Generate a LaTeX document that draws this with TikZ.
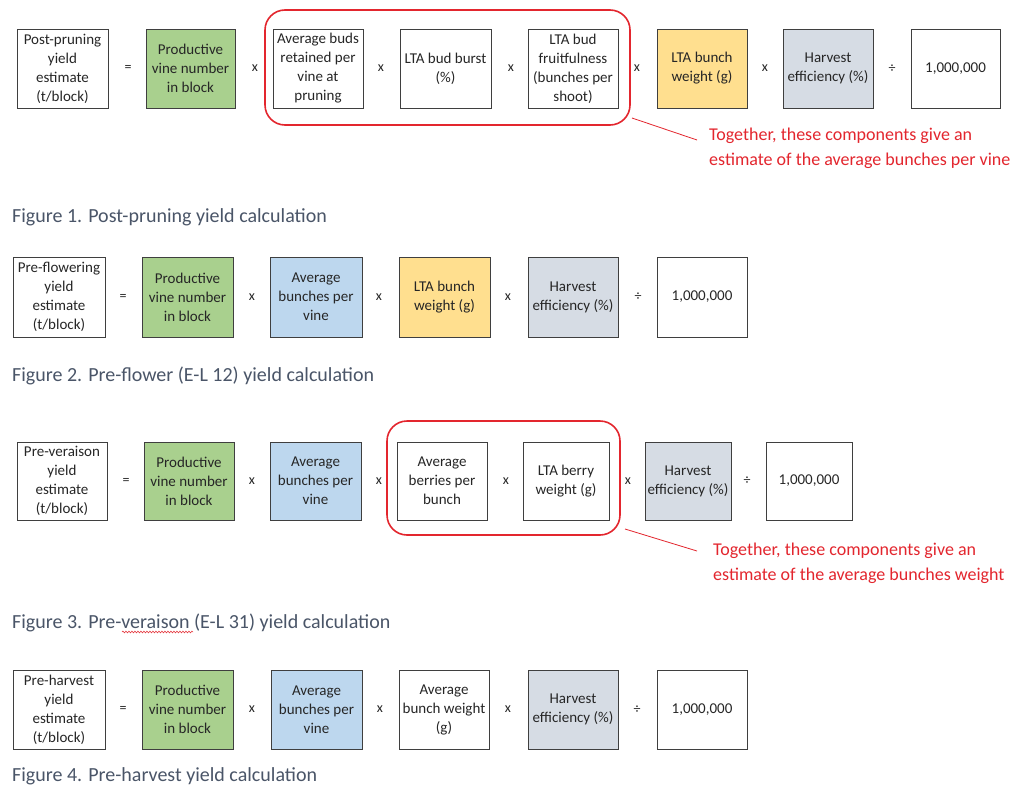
\documentclass[tikz,border=0pt]{standalone}
\usepackage{fontspec}
\setmainfont{Carlito}
\usetikzlibrary{decorations.pathmorphing}
\definecolor{boxline}{HTML}{3F3F3F}
\definecolor{boxtext}{HTML}{262626}
\definecolor{cgreen}{HTML}{A9D08E}
\definecolor{cblue}{HTML}{BDD7EE}
\definecolor{cyellow}{HTML}{FFDF8F}
\definecolor{cgrey}{HTML}{D6DCE4}
\definecolor{cred}{HTML}{E3262E}
\definecolor{capcol}{HTML}{4A5568}
\tikzset{
  box/.style={draw=boxline, line width=1pt, inner sep=0pt, align=center,
    text=boxtext, font=\fontsize{15}{19}\selectfont},
  op/.style={inner sep=0pt, text=boxtext, font=\fontsize{14}{16}\selectfont},
  grp/.style={draw=cred, line width=1.6pt, rounded corners=20pt, inner sep=0pt},
  note/.style={anchor=north west, inner sep=0pt, align=left, text=cred,
    font=\fontsize{18}{24.5}\selectfont},
  figcap/.style={anchor=west, inner sep=0pt, text=capcol, font=\fontsize{20}{24}\selectfont},
  lead/.style={draw=cred, line width=0.8pt}
}
\newcommand\bx[7]{\node[box,fill=#1,minimum width={#4-#3},minimum height=#6] (#2) at ({(#3+#4)/2},#5) {#7};}
\newcommand\opn[4]{\node[op] (#1) at (#2,#3) {#4};}
\begin{document}
\begin{tikzpicture}[x=1pt,y=-1pt]
\useasboundingbox[fill=white] (0,0) rectangle (1024,795);

% ---------- Row 1 ----------
\node[grp, minimum width=365, minimum height=115] (g1) at (447.5,67.5) {};
\bx{white}{a1}{17}{108}{68.5}{79}{Post-pruning\\yield\\estimate\\(t/block)}
\opn{e1}{128}{68.5}{=}
\bx{cgreen}{p1}{146}{235}{68.5}{79}{Productive\\vine number\\in block}
\opn{m11}{255}{68.5}{x}
\bx{white}{b1}{273}{363}{68.5}{79}{Average buds\\retained per\\vine at\\pruning}
\opn{m12}{381}{68.5}{x}
\bx{white}{c1}{400}{491}{68.5}{79}{LTA bud burst\\(\%)}
\opn{m13}{511}{68.5}{x}
\bx{white}{d1}{528}{618}{68.5}{79}{LTA bud\\fruitfulness\\(bunches per\\shoot)}
\opn{m14}{637}{68.5}{x}
\bx{cyellow}{w1}{657}{747}{68.5}{79}{LTA bunch\\weight (g)}
\opn{m15}{765}{68.5}{x}
\bx{cgrey}{h1}{783}{873}{68.5}{79}{Harvest\\efficiency (\%)}
\opn{dv1}{892}{68.5}{÷}
\bx{white}{n1}{911}{1000}{68.5}{79}{1,000,000}
\node[note] (t1) at (709,128) {Together, these components give an\\estimate of the average bunches per vine};
\coordinate (l1s) at (632,118);
\coordinate (l1e) at (697,140);
\draw[lead] (l1s) -- (l1e);
\node[figcap] (f1) at (12,217) {Figure 1. Post-pruning yield calculation};

% ---------- Row 2 ----------
\bx{white}{a2}{13}{105}{297}{80}{Pre-flowering\\yield\\estimate\\(t/block)}
\opn{e2}{123}{297}{=}
\bx{cgreen}{p2}{142}{233}{297}{80}{Productive\\vine number\\in block}
\opn{m21}{252}{297}{x}
\bx{cblue}{b2}{270}{362}{297}{80}{Average\\bunches per\\vine}
\opn{m22}{379}{297}{x}
\bx{cyellow}{w2}{399}{490}{297}{80}{LTA bunch\\weight (g)}
\opn{m23}{508}{297}{x}
\bx{cgrey}{h2}{528}{618}{297}{80}{Harvest\\efficiency (\%)}
\opn{dv2}{638}{297}{÷}
\bx{white}{n2}{657}{747}{297}{80}{1,000,000}
\node[figcap] (f2) at (12,376) {Figure 2. Pre-flower (E-L 12) yield calculation};

% ---------- Row 3 ----------
\node[grp, minimum width=233, minimum height=114] (g3) at (503.5,478) {};
\bx{white}{a3}{17}{107}{481}{78}{Pre-veraison\\yield\\estimate\\(t/block)}
\opn{e3}{126}{481}{=}
\bx{cgreen}{p3}{144}{234}{481}{78}{Productive\\vine number\\in block}
\opn{m31}{252}{481}{x}
\bx{cblue}{b3}{270}{361}{481}{78}{Average\\bunches per\\vine}
\opn{m32}{379}{481}{x}
\bx{white}{c3}{397}{487}{481}{78}{Average\\berries per\\bunch}
\opn{m33}{506}{481}{x}
\bx{white}{d3}{523}{609}{481}{78}{LTA berry\\weight (g)}
\opn{m34}{628}{481}{x}
\bx{cgrey}{h3}{645}{731}{481}{78}{Harvest\\efficiency (\%)}
\opn{dv3}{747}{481}{÷}
\bx{white}{n3}{766}{852}{481}{78}{1,000,000}
\node[note] (t3) at (713,543) {Together, these components give an\\estimate of the average bunches weight};
\coordinate (l3s) at (625,529);
\coordinate (l3e) at (697,551);
\draw[lead] (l3s) -- (l3e);
\node[figcap] (f3) at (12,623) {Figure 3. Pre-veraison (E-L 31) yield calculation};
\coordinate (u3s) at (122,632);
\coordinate (u3e) at (193,632);
\draw[cred, line width=0.5pt, decorate, decoration={snake, amplitude=0.9pt, segment length=3pt}] (u3s) -- (u3e);

% ---------- Row 4 ----------
\bx{white}{a4}{13}{105}{709.5}{79}{Pre-harvest\\yield\\estimate\\(t/block)}
\opn{e4}{123}{709.5}{=}
\bx{cgreen}{p4}{142}{233}{709.5}{79}{Productive\\vine number\\in block}
\opn{m41}{252}{709.5}{x}
\bx{cblue}{b4}{271}{362}{709.5}{79}{Average\\bunches per\\vine}
\opn{m42}{380}{709.5}{x}
\bx{white}{c4}{399}{489}{709.5}{79}{Average\\bunch weight\\(g)}
\opn{m43}{508}{709.5}{x}
\bx{cgrey}{h4}{528}{618}{709.5}{79}{Harvest\\efficiency (\%)}
\opn{dv4}{637}{709.5}{÷}
\bx{white}{n4}{657}{747}{709.5}{79}{1,000,000}
\node[figcap] (f4) at (12,776) {Figure 4. Pre-harvest yield calculation};
\end{tikzpicture}
\end{document}
